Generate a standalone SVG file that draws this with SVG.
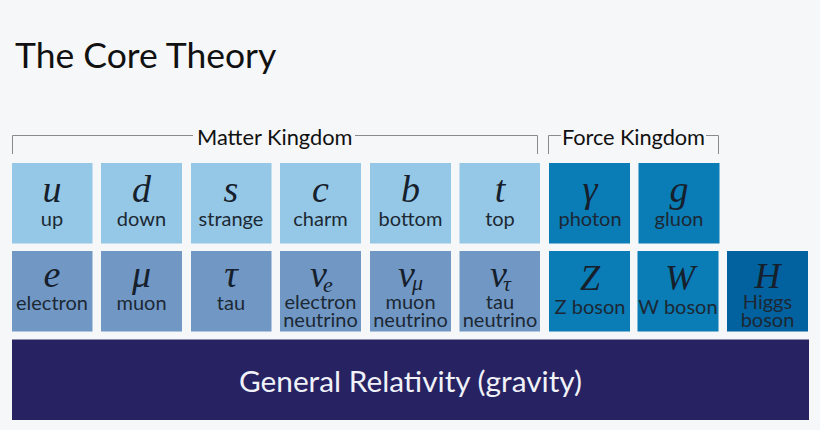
<svg xmlns="http://www.w3.org/2000/svg" width="820" height="430" viewBox="0 0 820 430">
<style>
.s{font-family:"Liberation Serif",serif;font-style:italic;font-size:38px;text-anchor:middle;fill:#16202c}
.c{font-size:36px}
.sub{font-family:"Liberation Serif",serif;font-style:italic;font-size:22px;fill:#16202c}
.l{font-family:Lato,"Liberation Sans",sans-serif;font-size:20px;text-anchor:middle;fill:#1c2834}
.k{font-family:Lato,"Liberation Sans",sans-serif;font-size:21.800px;fill:#111}
.q{fill:#95c8e6}.e{fill:#7198c5}.b{fill:#0a7cb6}.h{fill:#0262a0}
.br{fill:none;stroke:#8a8a8a;stroke-width:1}
</style>
<rect width="820" height="430" fill="#f6f7f8"/>
<text x="15" y="68" font-family="Lato,'Liberation Sans',sans-serif" font-size="35.500px" fill="#111">The Core Theory</text>
<g id="connectors">
<path class="br" d="M12.500 154V135.500H193"/><path class="br" d="M355 135.500H537.500V154"/>
<path class="br" d="M548.500 154V135.500H561"/><path class="br" d="M706 135.500H718.500V154"/>
</g>
<text class="k" x="197" y="145">Matter Kingdom</text>
<text class="k" x="562" y="145" textLength="143" lengthAdjust="spacing">Force Kingdom</text>
<g id="up"><rect class="q" x="12" y="163" width="80.500" height="80.500"/><text class="s" x="52" y="202">u</text><text class="l" x="52" y="226">up</text></g>
<g id="down"><rect class="q" x="101" y="163" width="81" height="80.500"/><text class="s" x="141.500" y="202">d</text><text class="l" x="141.500" y="226">down</text></g>
<g id="strange"><rect class="q" x="191" y="163" width="80.500" height="80.500"/><text class="s" x="231" y="202">s</text><text class="l" x="231" y="226">strange</text></g>
<g id="charm"><rect class="q" x="280" y="163" width="81" height="80.500"/><text class="s" x="320.500" y="202">c</text><text class="l" x="320.500" y="226">charm</text></g>
<g id="bottom"><rect class="q" x="370" y="163" width="81" height="80.500"/><text class="s" x="410.500" y="202">b</text><text class="l" x="410.500" y="226">bottom</text></g>
<g id="top"><rect class="q" x="459.500" y="163" width="80.500" height="80.500"/><text class="s" x="500" y="202">t</text><text class="l" x="500" y="226">top</text></g>
<g id="photon"><rect class="b" x="549" y="163" width="81" height="80.500"/><text class="s" x="590" y="202">γ</text><text class="l" x="590" y="226">photon</text></g>
<g id="gluon"><rect class="b" x="638.500" y="163" width="81" height="80.500"/><text class="s" x="679" y="202">g</text><text class="l" x="679" y="226">gluon</text></g>
<g id="electron"><rect class="e" x="12" y="251" width="80.500" height="80.500"/><text class="s" x="52" y="287">e</text><text class="l" x="52" y="310">electron</text></g>
<g id="muon"><rect class="e" x="101" y="251" width="81" height="80.500"/><text class="s" x="141.500" y="287">μ</text><text class="l" x="141.500" y="310">muon</text></g>
<g id="tau"><rect class="e" x="191" y="251" width="80.500" height="80.500"/><text class="s" x="231" y="287">τ</text><text class="l" x="231" y="310">tau</text></g>
<g id="electron-neutrino"><rect class="e" x="280" y="251" width="81" height="80.500"/><text class="s" x="318.500" y="287">ν</text><text class="sub" x="323" y="292">e</text><text class="l" x="320.500" y="309">electron</text><text class="l" x="320.500" y="327">neutrino</text></g>
<g id="muon-neutrino"><rect class="e" x="370" y="251" width="81" height="80.500"/><text class="s" x="406.500" y="287">ν</text><text class="sub" x="412" y="290">μ</text><text class="l" x="410.500" y="309">muon</text><text class="l" x="410.500" y="327">neutrino</text></g>
<g id="tau-neutrino"><rect class="e" x="459.500" y="251" width="80.500" height="80.500"/><text class="s" x="498.500" y="287">ν</text><text class="sub" x="503" y="291">τ</text><text class="l" x="500" y="309">tau</text><text class="l" x="500" y="327">neutrino</text></g>
<g id="z-boson"><rect class="b" x="549" y="251" width="81" height="80.500"/><text class="s c" x="590" y="290">Z</text><text class="l" x="590" y="314">Z boson</text></g>
<g id="w-boson"><rect class="b" x="637.500" y="251" width="81" height="80.500"/><text class="s c" x="680" y="290">W</text><text class="l" x="678" y="314">W boson</text></g>
<g id="higgs"><rect class="h" x="727" y="251" width="81" height="80.500"/><text class="s c" x="767.500" y="288">H</text><text class="l" x="767.500" y="309">Higgs</text><text class="l" x="767.500" y="327">boson</text></g>
<g id="gravity"><rect fill="#272262" x="12" y="339.500" width="797" height="80.500"/><text x="410.500" y="392" font-family="Lato,'Liberation Sans',sans-serif" font-size="29.800px" text-anchor="middle" fill="#f0f2f8">General Relativity (gravity)</text></g>
</svg>
